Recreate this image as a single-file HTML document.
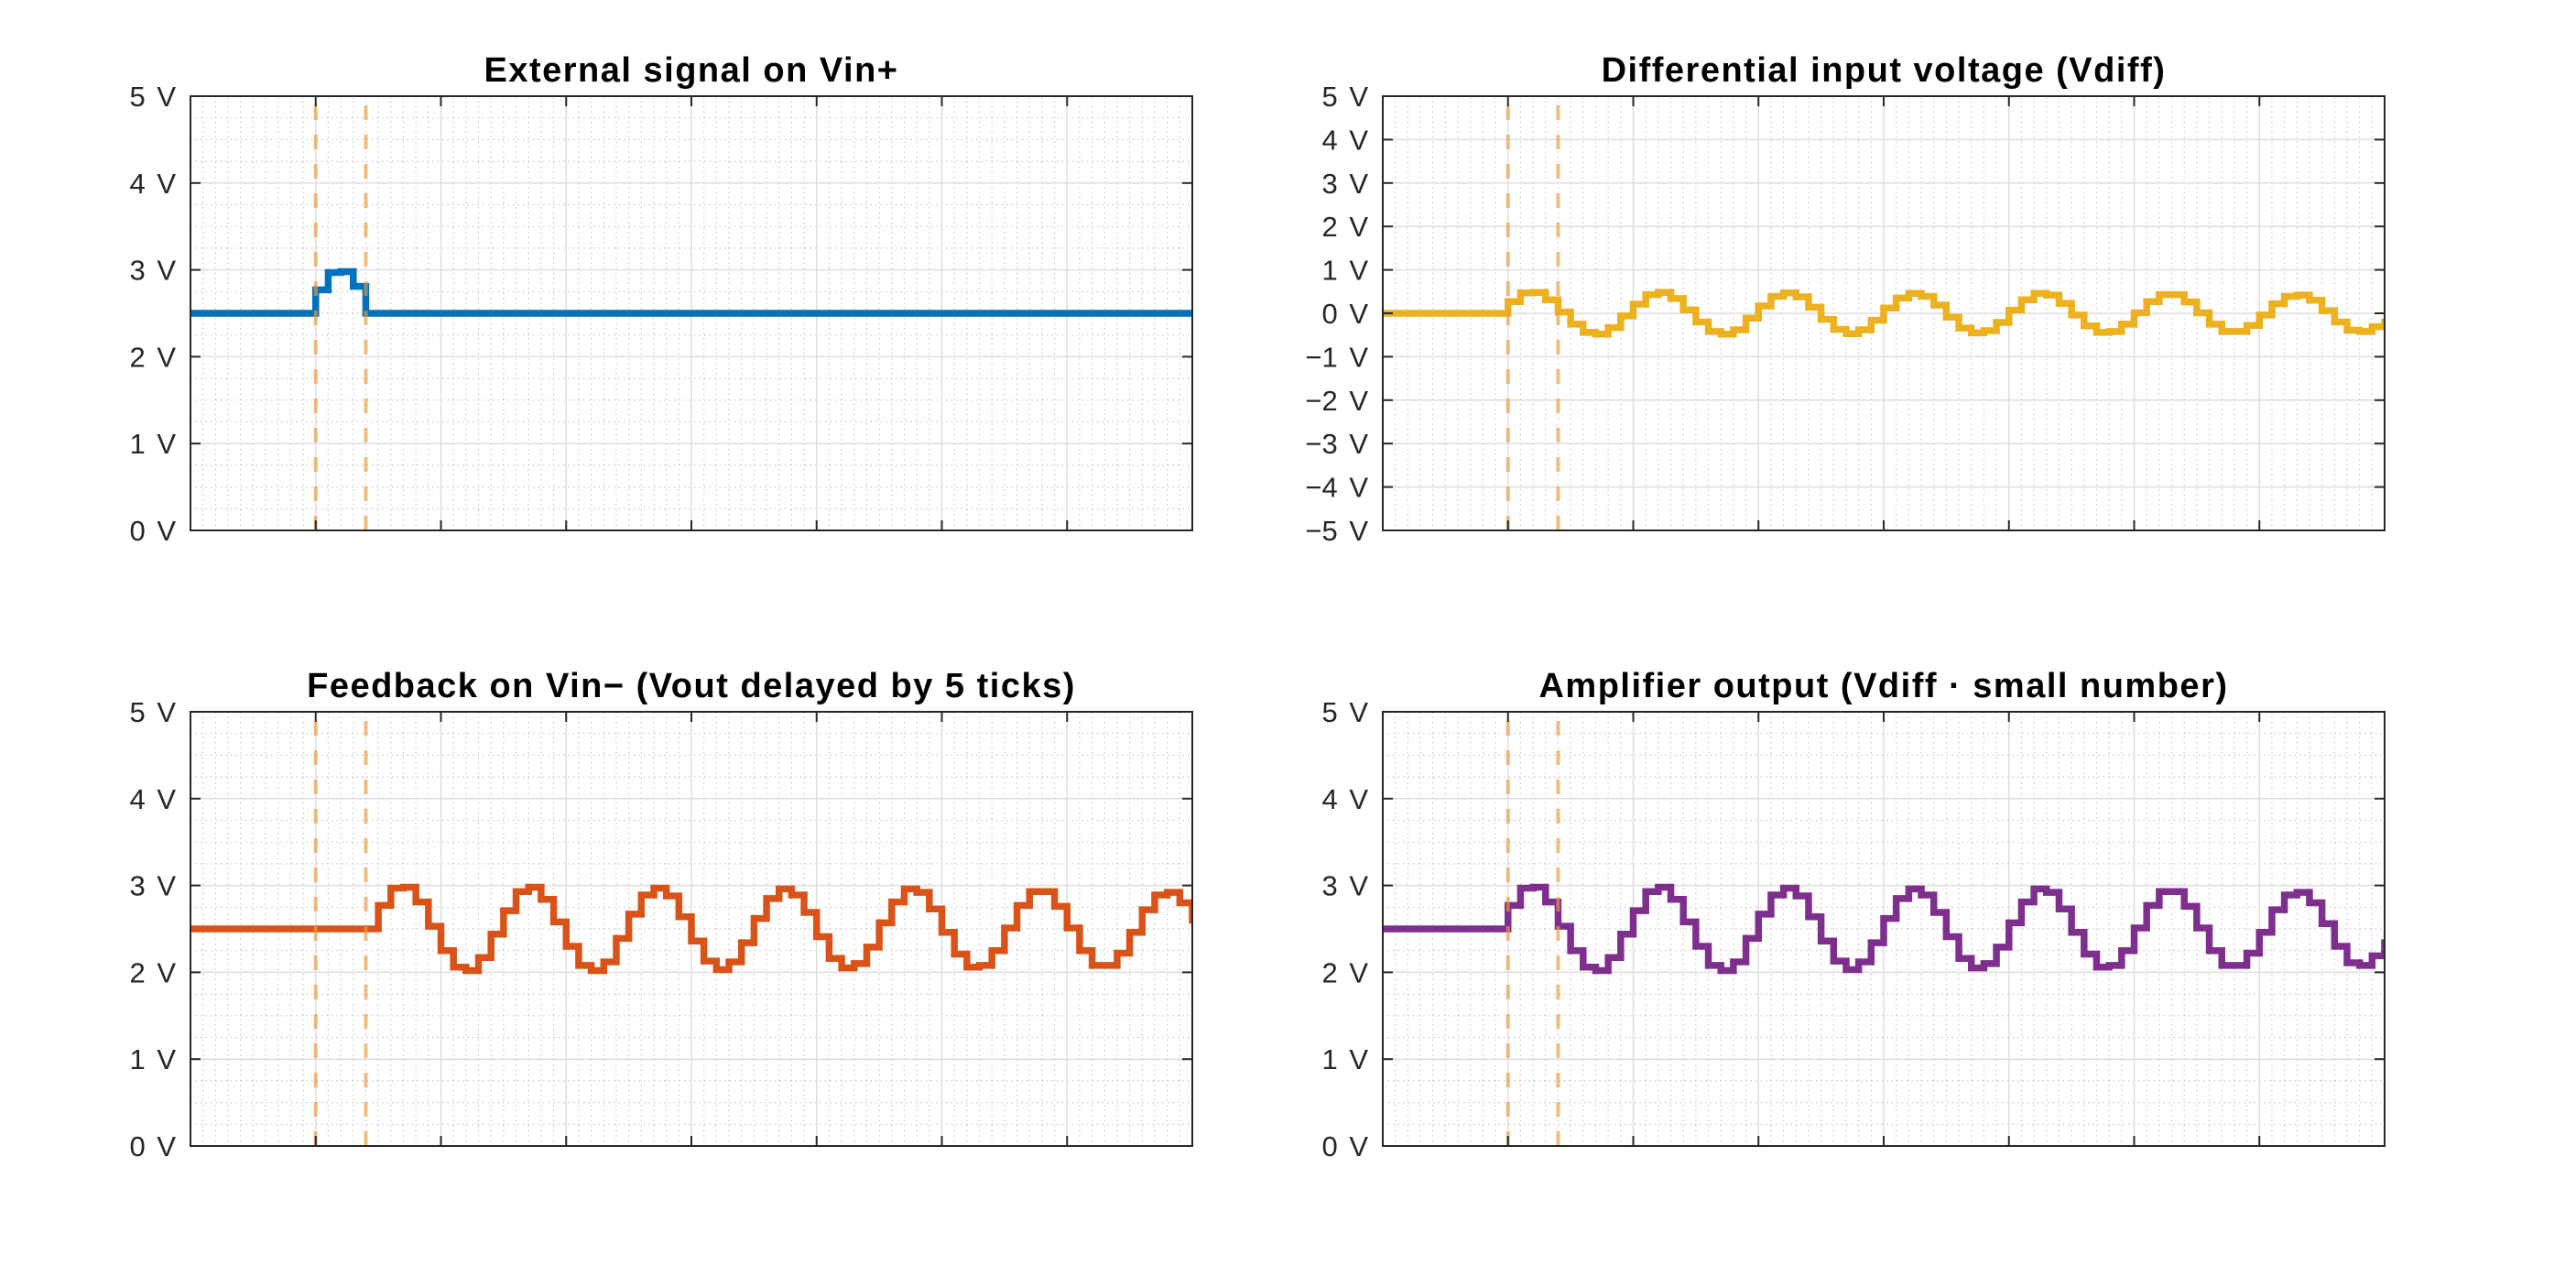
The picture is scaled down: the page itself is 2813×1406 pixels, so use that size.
<!DOCTYPE html>
<html><head><meta charset="utf-8"><style>
html,body{margin:0;padding:0;background:#fff;}
svg{display:block;}
text{font-family:"Liberation Sans",sans-serif;fill:#262626;}
</style></head><body>
<svg id="s" width="2813" height="1406" xmlns="http://www.w3.org/2000/svg"></svg>
<script>
const out=[];for(let i=0;i<10;i++)out.push(2.5);
out.push(2.77,2.97,2.98,2.81,2.53,2.25,2.06,2.02,2.17,2.44,2.71,2.93,2.98,2.84,2.58,2.30,2.08,2.02,2.12,2.39,2.67,2.89,2.97,2.88,2.64,2.36,2.13,2.03,2.12,2.34,2.62,2.85,2.96,2.89,2.69,2.41,2.16,2.05,2.10,2.29,2.57,2.81,2.96,2.92,2.73,2.46,2.21,2.06,2.08,2.25,2.51,2.77,2.93,2.93,2.76,2.51,2.25,2.08,2.08,2.22,2.46,2.72,2.89,2.92,2.80,2.56,2.30,2.11,2.08,2.19,2.38);
const vin=[];for(let i=0;i<=80;i++)vin.push(2.5);vin[10]=2.77;vin[11]=2.97;vin[12]=2.98;vin[13]=2.81;
const fb=out.map((v,i)=>i<5?2.5:out[i-5]);
const vd=out.map(v=>v-2.5);
const W=1094,H=474,N=80,dx=W/N;
const panels=[
 {x:208,y:105,min:0,max:5,minor:4,title:"External signal on Vin+",data:vin,col:"#0072BD"},
 {x:1510,y:105,min:-5,max:5,minor:1,title:"Differential input voltage (Vdiff)",data:vd,col:"#EDB120"},
 {x:208,y:777,min:0,max:5,minor:4,title:"Feedback on Vin− (Vout delayed by 5 ticks)",data:fb,col:"#D95319"},
 {x:1510,y:777,min:0,max:5,minor:4,title:"Amplifier output (Vdiff · small number)",data:out,col:"#7E2F8E"}];
let s="<defs>";
panels.forEach((p,k)=>{s+=`<clipPath id="c${k}"><rect x="${p.x}" y="${p.y}" width="${W}" height="${H}"/></clipPath>`});
s+="</defs>";
panels.forEach((p,k)=>{
 const X0=p.x,Y0=p.y,nv=p.max-p.min,vh=H/nv;
 const Y=v=>Y0+(p.max-v)*vh;
 for(let i=1;i<N;i++){if(i%10)s+=`<line x1="${X0+i*dx}" y1="${Y0}" x2="${X0+i*dx}" y2="${Y0+H}" stroke="#c8c8c8" stroke-width="1.2" stroke-dasharray="1.5,4"/>`;}
 if(p.minor>1)for(let i=1;i<nv*p.minor;i++){if(i%p.minor)s+=`<line x1="${X0}" y1="${Y0+i*vh/p.minor}" x2="${X0+W}" y2="${Y0+i*vh/p.minor}" stroke="#c8c8c8" stroke-width="1.2" stroke-dasharray="1.5,4"/>`;}
 for(let i=1;i<8;i++)s+=`<line x1="${X0+i*W/8}" y1="${Y0}" x2="${X0+i*W/8}" y2="${Y0+H}" stroke="#dedede" stroke-width="1.5"/>`;
 for(let i=1;i<nv;i++)s+=`<line x1="${X0}" y1="${Y0+i*vh}" x2="${X0+W}" y2="${Y0+i*vh}" stroke="#dedede" stroke-width="1.5"/>`;
 const d=p.data;let path=`M${X0},${Y(d[0])}`;
 for(let i=1;i<=N;i++){path+=`H${X0+i*dx}V${Y(d[i])}`;}
 s+=`<path d="${path}" fill="none" stroke="${p.col}" stroke-width="7.5" stroke-linejoin="miter" clip-path="url(#c${k})"/>`;
 [10,14].forEach(n=>{s+=`<line x1="${X0+n*dx}" y1="${Y0+10}" x2="${X0+n*dx}" y2="${Y0+H}" stroke="#EE9A3A" stroke-opacity="0.65" stroke-width="4" stroke-dasharray="16,16"/>`;});
 s+=`<rect x="${X0}" y="${Y0}" width="${W}" height="${H}" fill="none" stroke="#262626" stroke-width="2"/>`;
 for(let i=1;i<8;i++){const x=X0+i*W/8;s+=`<line x1="${x}" y1="${Y0}" x2="${x}" y2="${Y0+11}" stroke="#262626" stroke-width="2"/><line x1="${x}" y1="${Y0+H}" x2="${x}" y2="${Y0+H-11}" stroke="#262626" stroke-width="2"/>`;}
 for(let i=0;i<=nv;i++){const y=Y0+i*vh;s+=`<line x1="${X0}" y1="${y}" x2="${X0+11}" y2="${y}" stroke="#262626" stroke-width="2"/><line x1="${X0+W}" y1="${y}" x2="${X0+W-11}" y2="${y}" stroke="#262626" stroke-width="2"/>`;
  const v=p.max-i; s+=`<text x="${X0-16}" y="${y+11}" font-size="31" word-spacing="4" text-anchor="end">${v<0?"−"+(-v):v} V</text>`;}
 s+=`<text x="${X0+W/2}" y="${Y0-16}" font-size="38" letter-spacing="1.5" font-weight="bold" text-anchor="middle" style="fill:#000">${p.title}</text>`;
});
document.getElementById("s").innerHTML=s;
</script>
</body></html>
